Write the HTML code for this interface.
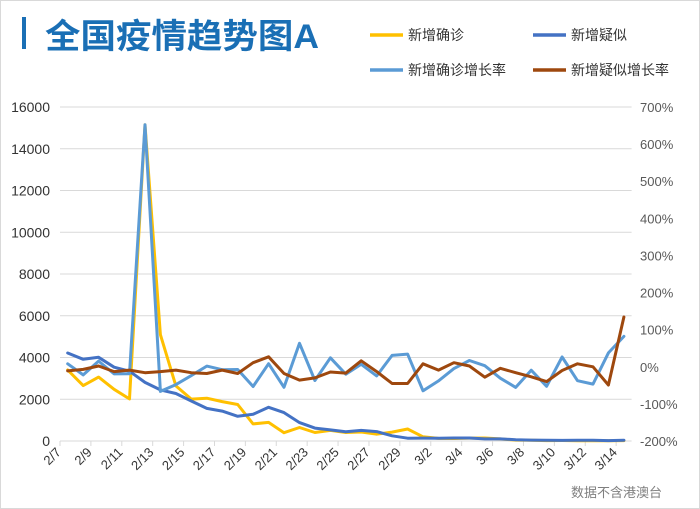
<!DOCTYPE html>
<html><head><meta charset="utf-8">
<style>
body{margin:0;background:#fff;}
#wrap{position:relative;width:700px;height:509px;overflow:hidden;background:#fff;font-family:"Liberation Sans","Noto Sans CJK SC",sans-serif;}
</style></head>
<body>
<div id="wrap">
<svg id="chart" width="700" height="509" viewBox="0 0 700 509" xmlns="http://www.w3.org/2000/svg">
  <rect x="0.5" y="0.5" width="699" height="508" fill="#fff" stroke="#d9d9d9"/>
  <rect x="22" y="17" width="4" height="32" fill="#1a6fb5"/>
  <text x="45" y="48" font-size="34" font-weight="bold" fill="#1a6fb5" textLength="274" lengthAdjust="spacingAndGlyphs" font-family="'Liberation Sans','Noto Sans CJK SC',sans-serif">全国疫情趋势图A</text>
  <g id="legend"></g>
  <g id="grid"></g>
  <g id="axes"></g>
  <g id="series"></g>
  <text x="662" y="497" font-size="13" fill="#7f7f7f" text-anchor="end" font-family="'Liberation Sans','Noto Sans CJK SC',sans-serif">数据不含港澳台</text>
</svg>
</div>
<script>
const categories = ["2/7","2/8","2/9","2/10","2/11","2/12","2/13","2/14","2/15","2/16","2/17","2/18","2/19","2/20","2/21","2/22","2/23","2/24","2/25","2/26","2/27","2/28","2/29","3/1","3/2","3/3","3/4","3/5","3/6","3/7","3/8","3/9","3/10","3/11","3/12","3/13","3/14"];
const newConfirmed = [3399,2656,3062,2478,2015,15152,5090,2641,2009,2048,1886,1749,820,889,397,648,409,508,406,433,327,427,573,202,125,119,139,143,99,44,40,19,24,15,8,11,20];
const newSuspected = [4214,3916,4008,3536,3342,2807,2450,2277,1918,1563,1432,1185,1277,1614,1361,882,620,530,439,508,452,248,132,141,129,143,143,102,99,60,41,36,31,33,33,17,39];
const confirmedGrowth = [8.1,-21.9,15.3,-19.1,-18.7,652.0,-66.4,-48.1,-23.9,1.9,-7.9,-7.3,-53.1,8.4,-55.3,63.2,-36.9,24.2,-20.1,6.7,-24.5,30.6,34.2,-64.7,-38.1,-4.8,16.8,2.9,-30.8,-55.6,-9.1,-52.5,26.3,-37.5,-46.7,37.5,81.8];
const suspectedGrowth = [-11,-7,2,-13,-9,-16,-13,-9,-16,-18,-9,-18,11,27,-18,-36,-30,-14,-17,16,-13,-45,-45,8,-9,11,2,-28,-4,-16,-27,-40,-10,8,0,-49,134];
const leftTicks = [0,2000,4000,6000,8000,10000,12000,14000,16000];
const rightTicks = [-200,-100,0,100,200,300,400,500,600,700];

const NS="http://www.w3.org/2000/svg";
const plotL=60, plotR=631.6, plotTop=107, plotBot=441;
const step=(plotR-plotL)/categories.length;
function xPos(i){return plotL+step*(i+0.5);}
function yLeft(v){return plotBot-(v-0)/(16000-0)*(plotBot-plotTop);}
function yRight(v){return plotBot-(v+200)/(900)*(plotBot-plotTop);}
function mk(tag,attrs,parent){const e=document.createElementNS(NS,tag);for(const k in attrs)e.setAttribute(k,attrs[k]);parent.appendChild(e);return e;}
const FONT="'Liberation Sans','Noto Sans CJK SC',sans-serif";
const grid=document.getElementById('grid'), axes=document.getElementById('axes'), series=document.getElementById('series'), legend=document.getElementById('legend');

leftTicks.forEach(t=>{
  const y=yLeft(t);
  const g=mk('line',{x1:plotL,x2:plotR,y1:y,y2:y,stroke:'#d9d9d9','stroke-width':1},grid);
  
  
  const tx=mk('text',{x:50,y:y+5,'font-size':14,'text-anchor':'end',fill:'#333','font-family':FONT},axes);
  tx.textContent=t;
  
  
});
rightTicks.forEach(t=>{
  const y=yRight(t);
  const tx=mk('text',{x:640,y:y+5,'font-size':13,'text-anchor':'start',fill:'#595959','font-family':FONT},axes);
  tx.textContent=t+'%';
  
  
});
for(let i=0;i<=categories.length;i+=2){
  const x=plotL+step*i;
  const tk=mk('line',{x1:x,x2:x,y1:plotBot,y2:plotBot+5,stroke:'#d9d9d9','stroke-width':1},axes);
  
  
}
categories.forEach((c,i)=>{
  if(i%2!==0)return;
  const x=xPos(i)-6, y=plotBot+12;
  const tx=mk('text',{x:x,y:y,'font-size':13,'text-anchor':'end',fill:'#333','font-family':FONT,transform:'rotate(-45 '+x+' '+y+')'},axes);
  tx.textContent=c;
  
  
});

function drawLine(vals,yf,color,name){
  const pts=vals.map((v,i)=>xPos(i).toFixed(1)+','+yf(v).toFixed(1)).join(' ');
  const p=mk('polyline',{points:pts,fill:'none',stroke:color,'stroke-width':3,'stroke-linejoin':'round','stroke-linecap':'round'},series);
  
  
}
drawLine(newConfirmed,yLeft,'#FFC000','new-confirmed-line');
drawLine(newSuspected,yLeft,'#4472C4','new-suspected-line');
drawLine(confirmedGrowth,yRight,'#5B9BD5','confirmed-growth-line');
drawLine(suspectedGrowth,yRight,'#9E480E','suspected-growth-line');

const legendItems=[['新增确诊','#FFC000',370,35],['新增疑似','#4472C4',533,35],['新增确诊增长率','#5B9BD5',370,70],['新增疑似增长率','#9E480E',533,70]];
legendItems.forEach(it=>{
  const ln=mk('line',{x1:it[2],x2:it[2]+33,y1:it[3],y2:it[3],stroke:it[1],'stroke-width':3.5},legend);
  
  
  const tx=mk('text',{x:it[2]+38,y:it[3]+5,'font-size':14,fill:'#333','font-family':FONT},legend);
  tx.textContent=it[0];
  
  
});
</script>
</body></html>
